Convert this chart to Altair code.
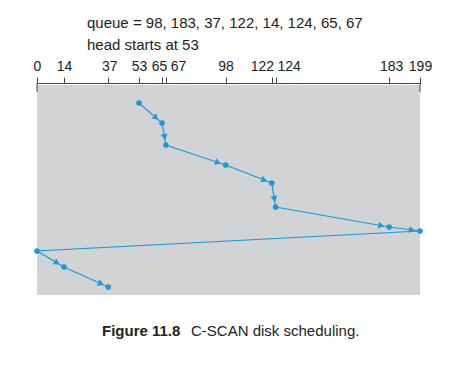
import math
import altair as alt
import pandas as pd

# ---- data ----
tracks = [53, 65, 67, 98, 122, 124, 183, 199, 0, 14, 37]       # service order
rows = [0, 1, 2.1, 3.1, 4.0, 5.2, 6.2, 6.4, 7.4, 8.2, 9.2]      # vertical step of each visit
arrow_on = [True, True, True, True, True, True, True, False, True, True]  # per segment
tick_values = [0, 14, 37, 53, 65, 67, 98, 122, 124, 183, 199]
title_lines = ["queue = 98, 183, 37, 122, 14, 124, 65, 67", "head starts at 53"]
caption_bold = "Figure 11.8"
caption_text = "C-SCAN disk scheduling."

BLUE = "#1b9ad8"
GRAY = "#d2d3d5"
FONT = "Liberation Sans"

W, H = 383, 210
X_DOM = [0, 199]
Y_DOM = [-0.9, 9.6]
sx = W / (X_DOM[1] - X_DOM[0])
sy = H / (Y_DOM[1] - Y_DOM[0])

path = pd.DataFrame({"track": tracks, "row": rows, "step": list(range(len(tracks)))})

# arrowheads placed a few pixels before each segment end, rotated along the segment
arr = []
back = 8.0
for i in range(len(tracks) - 1):
    if not arrow_on[i]:
        continue
    x0, y0, x1, y1 = tracks[i], rows[i], tracks[i + 1], rows[i + 1]
    dx, dy = (x1 - x0) * sx, (y1 - y0) * sy
    L = math.hypot(dx, dy)
    ax = x1 - dx / L * back / sx
    ay = y1 - dy / L * back / sy
    ang = math.degrees(math.atan2(dx, -dy)) % 360
    arr.append({"track": ax, "row": ay, "angle": ang})
arrows = pd.DataFrame(arr)

xs = alt.Scale(domain=X_DOM, nice=False, zero=False)
ys = alt.Scale(domain=Y_DOM, reverse=True, nice=False, zero=False)

# nudge crowded tick labels apart (pixels along the axis)
label_shift = ("datum.value == 65 ? -3 : datum.value == 67 ? 12 : "
               "datum.value == 122 ? -10 : datum.value == 124 ? 13 : "
               "datum.value == 183 ? 2 : datum.value == 37 ? 1 : 0")

xax = alt.Axis(
    orient="top", values=tick_values, title=None, grid=False,
    labelFont=FONT, labelFontSize=14, labelColor="#222222",
    labelOverlap=False, labelPadding=4, labelFlush=False,
    labelOffset=alt.ExprRef(expr=label_shift),
    tickSize=6, tickColor="#444444", domainColor="#444444",
    tickWidth=1, domainWidth=1, offset=2)

def X():
    return alt.X("track:Q", scale=xs, axis=xax)

def Y():
    return alt.Y("row:Q", scale=ys, axis=None)

base = alt.Chart(path)

line = base.mark_line(color=BLUE, strokeWidth=1.2).encode(x=X(), y=Y(), order="step:Q")

dots = base.mark_circle(color=BLUE, size=32, opacity=1).encode(x=X(), y=Y())

heads = alt.Chart(arrows).mark_point(
    shape="triangle-up", filled=True, color=BLUE, size=48, opacity=1
).encode(x=X(), y=Y(), angle=alt.Angle("angle:Q", scale=None))

edges = alt.Chart(pd.DataFrame({"track": [0, 199]})).mark_rule(color="#444444", strokeWidth=1).encode(
    x=X(), y=alt.value(-2), y2=alt.value(7)
)

def txt(s, x, y, size=15, weight="normal"):
    return alt.Chart(pd.DataFrame({"t": [s]})).mark_text(
        align="left", baseline="alphabetic", font=FONT, fontSize=size,
        fontWeight=weight, color="#222222"
    ).encode(text="t:N", x=alt.value(x), y=alt.value(y))

t1 = txt(title_lines[0], 50, -57)
t2 = txt(title_lines[1], 50, -35)
c1 = txt(caption_bold, 65, 251, weight="bold")
c2 = txt(caption_text, 154, 251)

chart = alt.layer(line, edges, dots, heads, t1, t2, c1, c2).properties(
    width=W, height=H,
    autosize=alt.AutoSizeParams(type="none"),
    padding={"left": 37, "top": 85, "right": 54, "bottom": 88},
    background="white",
).configure_view(fill=GRAY, stroke=None)

chart.save("out.html", embed_options={"renderer": "svg", "actions": False})
